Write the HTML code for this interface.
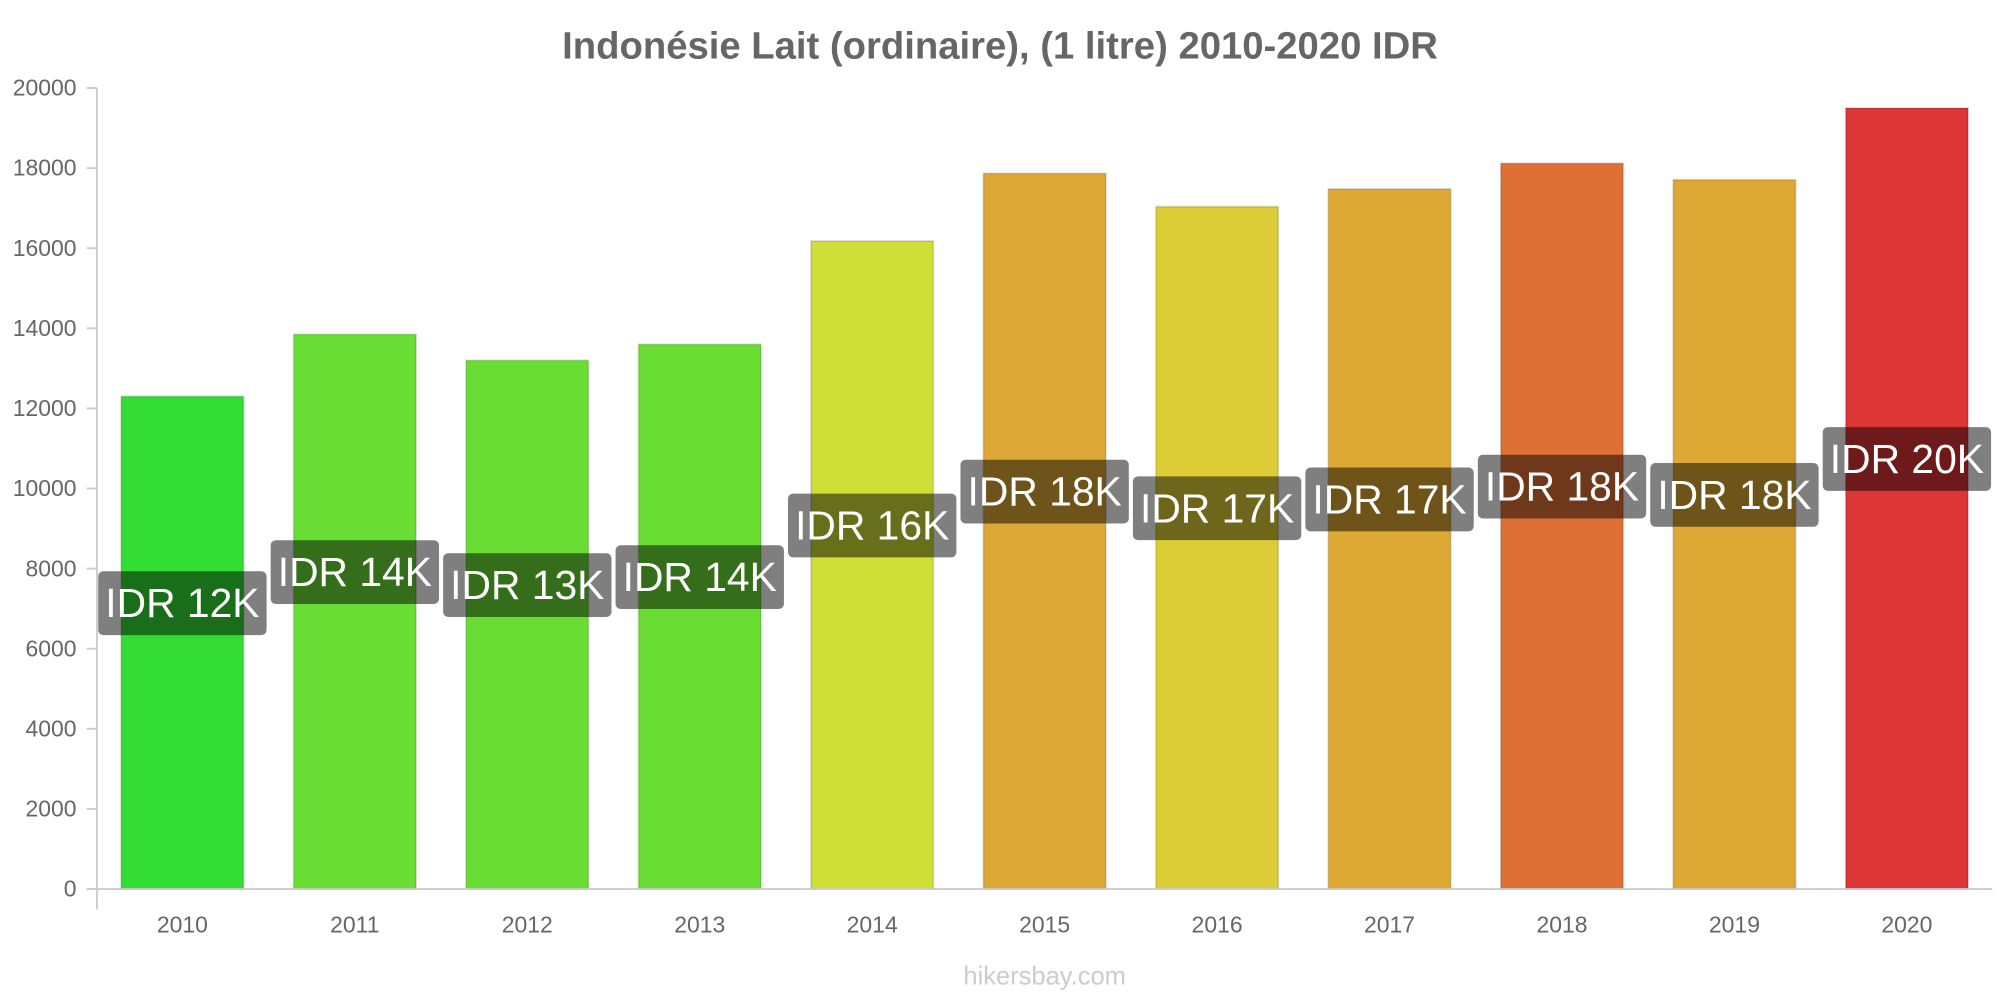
<!DOCTYPE html>
<html><head><meta charset="utf-8"><style>
html,body{margin:0;padding:0;background:#fff;}
svg{display:block;font-family:"Liberation Sans",sans-serif;}
</style></head><body>
<svg id="chart" width="2000" height="1000" viewBox="0 0 1568 784" xmlns="http://www.w3.org/2000/svg">
<text x="784" y="46" text-anchor="middle" font-size="30" font-weight="bold" fill="#666">Indonésie Lait (ordinaire), (1 litre) 2010-2020 IDR</text>
<g id="yaxis"></g>
<g id="bars"></g>
<g id="labels"></g>
<g id="xaxis"></g>
<text x="819" y="772" text-anchor="middle" font-size="20" fill="#ccc">hikersbay.com</text>
</svg>
<script>
const categories = ["2010","2011","2012","2013","2014","2015","2016","2017","2018","2019","2020"];
const values = [12300,13850,13200,13600,16180,17870,17040,17480,18120,17710,19500];
const valueLabels = ["IDR 12K","IDR 14K","IDR 13K","IDR 14K","IDR 16K","IDR 18K","IDR 17K","IDR 17K","IDR 18K","IDR 18K","IDR 20K"];
const colors = ["#33dd33","#6add35","#6add35","#6add35","#cfdf35","#dda835","#dccc35","#dea835","#de7035","#dea835","#dc3535"];
const yTicks = [0,2000,4000,6000,8000,10000,12000,14000,16000,18000,20000];

const NS="http://www.w3.org/2000/svg";
const y0=697, yTop=69, yMax=20000;
const y=v=>y0-(v/yMax)*(y0-yTop);
const x0=143, step=135.2, bw=96;
const x=i=>x0+i*step;
function mk(tag,attrs,parent,text){const e=document.createElementNS(NS,tag);for(const k in attrs)e.setAttribute(k,attrs[k]);if(text!==undefined)e.textContent=text;parent.appendChild(e);return e;}
const ya=document.getElementById('yaxis'), xa=document.getElementById('xaxis'), bg=document.getElementById('bars'), lg=document.getElementById('labels');
let e=mk('line',{x1:76,y1:69,x2:76,y2:713,stroke:'#ccc','stroke-width':1.5},ya);


yTicks.forEach(t=>{
  const tl=mk('line',{x1:68,x2:76,y1:y(t),y2:y(t),stroke:'#ccc','stroke-width':1.5},ya);
  
  
  const tx=mk('text',{x:60,y:y(t)+6,'text-anchor':'end','font-size':18,fill:'#666'},ya,String(t));
  
  
});
e=mk('line',{x1:68,y1:y0,x2:1562,y2:y0,stroke:'#ccc','stroke-width':1.5},xa);


categories.forEach((c,i)=>{
  const r=mk('rect',{x:x(i)-bw/2,y:y(values[i]),width:bw,height:y0-y(values[i]),fill:colors[i],stroke:'rgba(0,0,0,0.12)','stroke-width':1.5},bg);
  
  
  const t=mk('text',{x:x(i),y:731,'text-anchor':'middle','font-size':18,fill:'#666'},xa,c);
  
  
  const cy=(y(values[i])+y0)/2-31;
  const b=mk('rect',{x:x(i)-66,y:cy-25,width:132,height:50,rx:4,fill:'rgba(0,0,0,0.5)'},lg);
  
  
  const lt=mk('text',{x:x(i),y:cy+11,'text-anchor':'middle','font-size':32,fill:'#fff'},lg,valueLabels[i]);
  
  
});
</script>
</body></html>
